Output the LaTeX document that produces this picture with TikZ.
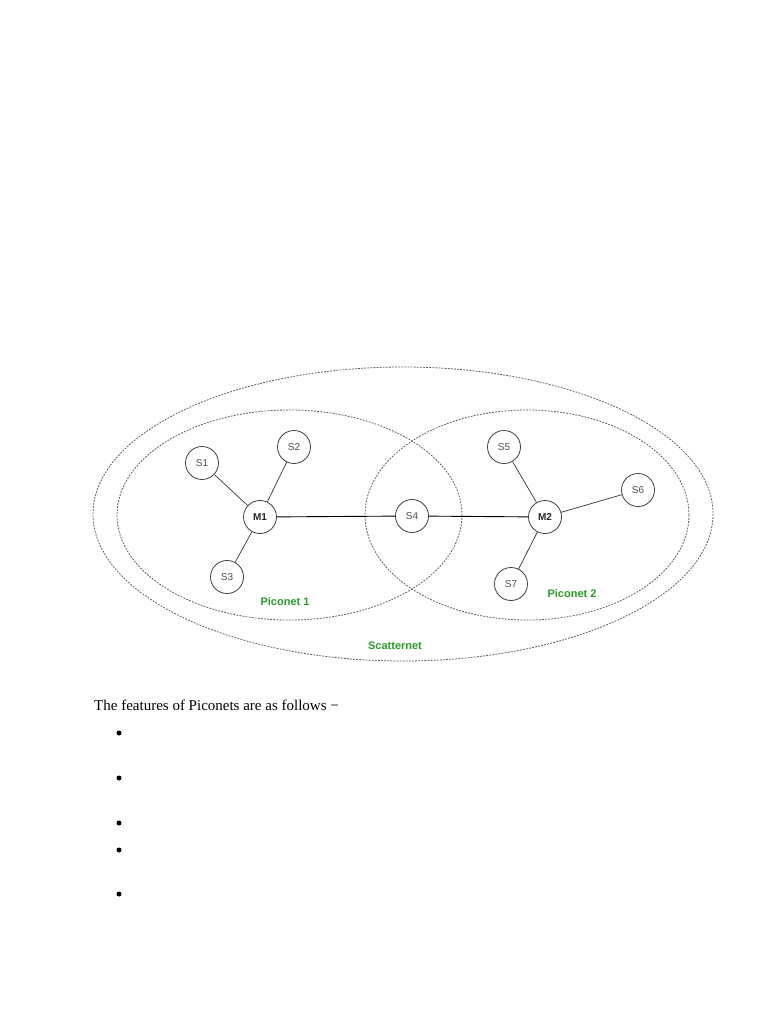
\documentclass[tikz,border=0pt]{standalone}
\usepackage{fontspec}
\setmainfont{Liberation Serif}
\newfontfamily\arialf{Liberation Sans}
\begin{document}
\begin{tikzpicture}[x=1pt,y=-1pt,
  dev/.style={circle,draw=black!75,line width=0.8pt,minimum size=33pt,inner sep=0pt,
    font=\arialf\fontsize{10}{11}\selectfont,text=black!70},
  master/.style={dev,font=\arialf\bfseries\fontsize{10}{11}\selectfont,text=black!85},
  link/.style={draw=black!80,line width=0.7pt},
  mainlink/.style={draw=black,line width=0.9pt},
  zone/.style={draw=black!65,line width=0.8pt,dash pattern=on 1.8pt off 1.3pt},
  netlabel/.style={font=\arialf\bfseries\fontsize{11}{12}\selectfont,text={rgb,255:red,40;green,155;blue,40}},
  bodytext/.style={font=\fontsize{15}{18}\selectfont,anchor=west,inner sep=0pt},
  bulletmark/.style={circle,fill=black,inner sep=0pt,minimum size=5pt}
]
\useasboundingbox (0,0) rectangle (768,1024);
\fill[white] (0,0) rectangle (768,1024);
% zones
\draw[zone] (403,514) ellipse [x radius=310,y radius=147];
\draw[zone] (289.5,515) ellipse [x radius=172.5,y radius=105];
\draw[zone] (527,515) ellipse [x radius=162,y radius=105];
% devices
\node[dev] (S1) at (202,463) {S1};
\node[dev] (S2) at (294,447) {S2};
\node[master] (M1) at (260,517) {M1};
\node[dev] (S3) at (227,577) {S3};
\node[dev] (S4) at (412,516) {S4};
\node[dev] (S5) at (504,447) {S5};
\node[master] (M2) at (545,517) {M2};
\node[dev] (S6) at (638,490) {S6};
\node[dev] (S7) at (511,584) {S7};
% links
\draw[link] (M1) -- (S1);
\draw[link] (M1) -- (S2);
\draw[link] (M1) -- (S3);
\draw[mainlink] (M1) -- (S4);
\draw[mainlink] (S4) -- (M2);
\draw[link] (M2) -- (S5);
\draw[link] (M2) -- (S6);
\draw[link] (M2) -- (S7);
% labels
\node[netlabel] (p1) at (285,602) {Piconet 1};
\node[netlabel] (p2) at (572,594) {Piconet 2};
\node[netlabel] (sc) at (395,646) {Scatternet};
% text
\node[bodytext] (intro) at (94,705) {The features of Piconets are as follows −};
\node[bulletmark] (b1) at (119,733) {};
\node[bulletmark] (b2) at (119,778) {};
\node[bulletmark] (b3) at (119,823) {};
\node[bulletmark] (b4) at (119,850) {};
\node[bulletmark] (b5) at (119,894) {};
\end{tikzpicture}
\end{document}
